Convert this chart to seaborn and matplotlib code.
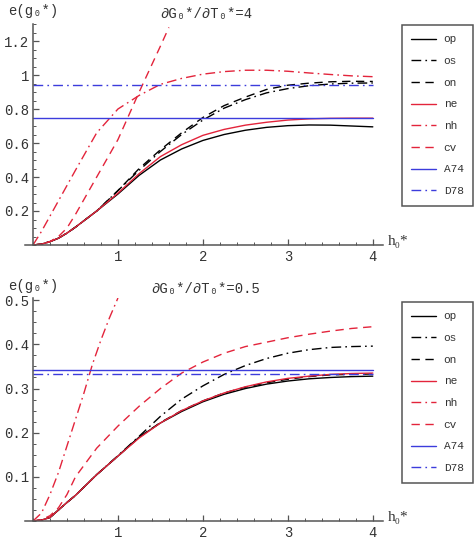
import numpy as np
import pandas as pd
import seaborn as sns
import matplotlib
matplotlib.use('agg')
import matplotlib.pyplot as plt
from matplotlib.ticker import MultipleLocator, FixedLocator, FixedFormatter

# common h0* grid
h = [0, 0.1, 0.2, 0.3, 0.4, 0.5, 0.75, 1, 1.25, 1.5, 1.75, 2, 2.25, 2.5, 2.75, 3, 3.25, 3.5, 3.75, 4]

# upper panel, dG0*/dT0* = 4
op_top = [0, 0.005, 0.02, 0.04, 0.07, 0.105, 0.2, 0.3, 0.41, 0.5, 0.565, 0.615, 0.65, 0.675, 0.692, 0.702, 0.706, 0.705, 0.70, 0.695]
os_top = [0, 0.005, 0.02, 0.04, 0.07, 0.105, 0.2, 0.32, 0.44, 0.55, 0.65, 0.735, 0.805, 0.855, 0.895, 0.92, 0.937, 0.947, 0.952, 0.953]
on_top = [0, 0.005, 0.02, 0.04, 0.07, 0.105, 0.2, 0.32, 0.45, 0.56, 0.66, 0.75, 0.82, 0.87, 0.915, 0.94, 0.952, 0.96, 0.963, 0.962]
ne_top = [0, 0.005, 0.02, 0.04, 0.07, 0.105, 0.2, 0.305, 0.42, 0.52, 0.59, 0.645, 0.68, 0.705, 0.722, 0.735, 0.742, 0.745, 0.746, 0.746]
nh_top = [0, 0.08, 0.17, 0.26, 0.35, 0.44, 0.66, 0.8, 0.88, 0.945, 0.98, 1.005, 1.02, 1.028, 1.028, 1.022, 1.012, 1.003, 0.995, 0.99]
h_cv_top = [0, 0.1, 0.2, 0.3, 0.4, 0.5, 0.75, 1, 1.25, 1.5, 1.6]
cv_top = [0, 0.005, 0.02, 0.05, 0.1, 0.18, 0.4, 0.62, 0.9, 1.17, 1.28]
a74_top = 0.745
d78_top = 0.94

# lower panel, dG0*/dT0* = 0.5
op_bot = [0, 0.002, 0.008, 0.025, 0.042, 0.058, 0.105, 0.147, 0.19, 0.222, 0.248, 0.27, 0.287, 0.3, 0.31, 0.317, 0.322, 0.325, 0.327, 0.328]
os_bot = [0, 0.002, 0.008, 0.025, 0.042, 0.058, 0.105, 0.148, 0.192, 0.237, 0.276, 0.306, 0.332, 0.352, 0.368, 0.38, 0.388, 0.393, 0.395, 0.396]
on_bot = [0, 0.002, 0.008, 0.025, 0.042, 0.058, 0.105, 0.147, 0.19, 0.223, 0.25, 0.272, 0.29, 0.303, 0.313, 0.321, 0.327, 0.331, 0.332, 0.333]
ne_bot = [0, 0.002, 0.008, 0.025, 0.042, 0.058, 0.105, 0.147, 0.188, 0.222, 0.25, 0.272, 0.29, 0.304, 0.315, 0.323, 0.328, 0.332, 0.334, 0.335]
h_nh_bot = [0, 0.1, 0.2, 0.3, 0.4, 0.5, 0.6, 0.7, 0.8, 0.9, 1.0]
nh_bot = [0, 0.018, 0.06, 0.11, 0.17, 0.23, 0.29, 0.355, 0.41, 0.46, 0.505]
cv_bot = [0, 0.003, 0.012, 0.03, 0.06, 0.1, 0.165, 0.215, 0.26, 0.3, 0.335, 0.36, 0.38, 0.395, 0.405, 0.415, 0.423, 0.43, 0.436, 0.44]
a74_bot = 0.342
d78_bot = 0.333

labels = ['op', 'os', 'on', 'ne', 'nh', 'cv', 'A74', 'D78']

RED = '#e3243b'
BLUE = '#3c3cdc'
DASH = (0, (6, 4))
DASHDOT = (0, (7, 3, 1.2, 3))
styles = {
    'op': ('black', '-'), 'os': ('black', DASHDOT), 'on': ('black', DASH),
    'ne': (RED, '-'), 'nh': (RED, DASHDOT), 'cv': (RED, DASH),
    'A74': (BLUE, '-'), 'D78': (BLUE, DASHDOT),
}

sns.set_style('ticks')
plt.rcParams['font.family'] = ['Liberation Mono', 'DejaVu Sans Mono', 'DejaVu Sans']

W, H = 474, 553
fig = plt.figure(figsize=(W / 100, H / 100), dpi=100)


def px(x, y):
    return x / W, 1 - y / H


def panel(rect, series, ymax, ymajor, ylabels, title, ty, legy):
    ax = fig.add_axes(rect)
    for name in labels:
        xs, ys = series[name]
        c, ls = styles[name]
        sns.lineplot(x=xs, y=ys, ax=ax, color=c, linestyle=ls, lw=1.0, label=name, sort=False)
    ax.set_xlim(-0.1, 4.12)
    ax.set_ylim(0, ymax)
    for s in ['top', 'right']:
        ax.spines[s].set_visible(False)
    ax.spines['left'].set_position(('data', 0))
    for s in ['left', 'bottom']:
        ax.spines[s].set_color('#555555')
        ax.spines[s].set_linewidth(1.1)
    ax.xaxis.set_major_locator(FixedLocator([1, 2, 3, 4]))
    ax.xaxis.set_major_formatter(FixedFormatter(['1', '2', '3', '4']))
    ax.xaxis.set_minor_locator(MultipleLocator(0.2))
    ax.yaxis.set_major_locator(FixedLocator(ymajor))
    ax.yaxis.set_major_formatter(FixedFormatter(ylabels))
    ax.yaxis.set_minor_locator(MultipleLocator(ymajor[0] / 4))
    ax.tick_params(which='both', direction='in', color='#555555', labelsize=10, labelcolor='#333333')
    ax.tick_params(which='major', length=4, width=0.9)
    ax.tick_params(which='minor', length=2, width=0.7)
    ax.tick_params(axis='y', pad=3)
    ax.set_xlabel('')
    ax.set_ylabel('')
    handles, labs = ax.get_legend_handles_labels()
    ax.get_legend().remove()
    leg = fig.legend(handles, labs, loc='upper left', bbox_to_anchor=px(402, legy),
                     bbox_transform=fig.transFigure, fontsize=8, frameon=True,
                     fancybox=False, edgecolor='#555555', framealpha=1,
                     handlelength=2.2, handletextpad=0.7, labelspacing=1.05,
                     borderpad=0.85, borderaxespad=0)
    leg.get_frame().set_linewidth(1.1)
    for t in leg.get_texts():
        t.set_color('#333333')
    fx, fy = px(8, ty - 3)
    fig.text(fx, fy, 'e(g₀*)', fontsize=10, color='#333333', va='center', ha='left')
    fx, fy = px(206, ty)
    fig.text(fx, fy, title, fontsize=10, color='#333333', va='center', ha='center')
    return ax


top_series = {
    'op': (h, op_top), 'os': (h, os_top), 'on': (h, on_top),
    'ne': (h, ne_top), 'nh': (h, nh_top), 'cv': (h_cv_top, cv_top),
    'A74': ([0, 4], [a74_top, a74_top]), 'D78': ([0, 4], [d78_top, d78_top]),
}
bot_series = {
    'op': (h, op_bot), 'os': (h, os_bot), 'on': (h, on_bot),
    'ne': (h, ne_bot), 'nh': (h_nh_bot, nh_bot), 'cv': (h, cv_bot),
    'A74': ([0, 4], [a74_bot, a74_bot]), 'D78': ([0, 4], [d78_bot, d78_bot]),
}

# axes rectangles in figure fractions (x from -0.1, axes cross at origin)
r_top = [24.5 / W, (H - 245) / H, (383 - 24.5) / W, (245 - 24) / H]
r_bot = [24.5 / W, (H - 521) / H, (383 - 24.5) / W, (521 - 298) / H]

panel(r_top, top_series, 1.3, [0.2, 0.4, 0.6, 0.8, 1.0, 1.2],
      ['0.2', '0.4', '0.6', '0.8', '1', '1.2'], '∂G₀*/∂T₀*=4', 14, 25)
panel(r_bot, bot_series, 0.505, [0.1, 0.2, 0.3, 0.4, 0.5],
      ['0.1', '0.2', '0.3', '0.4', '0.5'], '∂G₀*/∂T₀*=0.5', 289, 302)

for yy in [241, 517]:
    fx, fy = px(388, yy)
    fig.text(fx, fy, 'h₀*', fontsize=11, color='#333333', va='center', ha='left',
             family=['Liberation Serif', 'DejaVu Serif'])

fig.savefig('out.png', dpi=100)
